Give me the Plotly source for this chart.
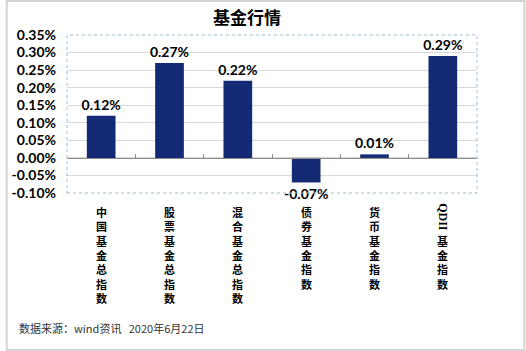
import plotly.graph_objects as go

categories = ["中国基金总指数", "股票基金总指数", "混合基金总指数", "债券基金指数", "货币基金指数", "QDII基金指数"]
values = [0.12, 0.27, 0.22, -0.07, 0.01, 0.29]
y_ticks = [-0.10, -0.05, 0.00, 0.05, 0.10, 0.15, 0.20, 0.25, 0.30, 0.35]
title_text = "基金行情"
source_text = "数据来源：wind资讯   2020年6月22日"

W, H = 526, 351
ML, MR, MT, MB = 62, 49, 35, 158
PW, PH = W - ML - MR, H - MT - MB
ymin, ymax = y_ticks[0], y_ticks[-1]

fig = go.Figure(go.Bar(
    x=categories, y=values,
    marker=dict(color="#142a74", line=dict(width=0)),
    width=0.42,
    text=[f"{v:.2f}%" for v in values],
    textposition="outside",
    constraintext="none",
    textfont=dict(family="Lato", size=14, color="black", weight="bold"),
    cliponaxis=False,
))

annotations = []
for c in categories:
    if c.startswith("QDII"):
        rest = c[4:]
        txt = "<br>".join([" ", " "] + list(rest))
        annotations.append(dict(x=c, xref="x", y=0, yref="paper", text="QDII", textangle=90,
                                showarrow=False, yanchor="middle", xanchor="center", yshift=-24,
                                font=dict(family="Liberation Serif", size=12, color="black", weight="bold")))
    else:
        txt = "<br>".join(list(c))
    annotations.append(dict(x=c, xref="x", y=0, yref="paper", text=txt, showarrow=False,
                            yanchor="top", xanchor="center", yshift=-9, align="center",
                            font=dict(family="Noto Sans CJK SC", size=11, color="black", weight="bold")))

annotations.append(dict(x=0, xref="paper", y=0, yref="paper", text=source_text, showarrow=False,
                        xanchor="left", yanchor="middle", xshift=-50, yshift=-135,
                        font=dict(family="Noto Sans CJK SC", size=11, color="#333333")))

shapes = [
    dict(type="rect", xref="paper", yref="paper", x0=0, x1=1, y0=0, y1=1,
         line=dict(color="#9dbbd8", width=1, dash="dot"), layer="above"),
    dict(type="rect", xref="paper", yref="paper",
         x0=(1 - ML) / PW, x1=(W - 1 - ML) / PW,
         y0=(H - MB - (H - 1)) / PH, y1=(H - MB - 1) / PH,
         line=dict(color="#d4d4d4", width=2), layer="above"),
]

fig.update_layout(
    width=W, height=H,
    margin=dict(l=ML, r=MR, t=MT, b=MB),
    paper_bgcolor="white", plot_bgcolor="white",
    showlegend=False,
    title=dict(text=title_text, xref="container", x=247 / W, xanchor="center",
               yref="container", y=1 - 18 / H, yanchor="middle",
               font=dict(family="Noto Sans CJK SC", size=17, color="black", weight="bold")),
    xaxis=dict(anchor="free", position=(0 - ymin) / (ymax - ymin),
               showline=True, linecolor="#8c8c8c", linewidth=1,
               ticks="inside", tickson="boundaries", ticklen=4, tickcolor="#8c8c8c",
               showticklabels=False, showgrid=False, zeroline=False),
    yaxis=dict(range=[ymin, ymax], tickvals=y_ticks,
               ticktext=[f"{v:.2f}%" for v in y_ticks],
               showgrid=True, gridcolor="#d9d9d9", gridwidth=1,
               zeroline=False, showline=False, ticks="", ticklabelstandoff=10,
               tickfont=dict(family="Lato", size=14, color="black", weight="bold")),
    annotations=annotations,
    shapes=shapes,
)

fig.write_html("out.html")
